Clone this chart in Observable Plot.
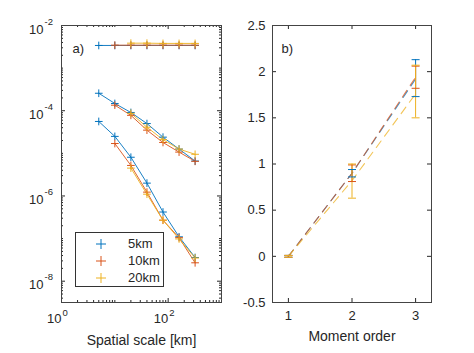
<!DOCTYPE html>
<html><head><meta charset="utf-8">
<script src="https://cdn.jsdelivr.net/npm/d3@7"></script>
<script src="https://cdn.jsdelivr.net/npm/@observablehq/plot@0.6"></script>
<style>
body{margin:0;background:#fff;font-family:"Liberation Sans",Arial,sans-serif;color:#262626;}
#wrap{position:relative;width:474px;height:353px;}
#left,#right{position:absolute;top:0;}
#left{left:0}#right{left:237px}
#legend{position:absolute;left:75px;top:232px;width:87px;height:53px;border:1px solid #333;background:#fff;font-size:13px;}
#legend .row{position:absolute;left:0;height:16px;width:87px;}
#legend svg{position:absolute;left:19px;top:2px;}
#legend span{position:absolute;left:52px;top:0;line-height:16px;}
</style></head><body>
<div id="wrap"><div id="left"></div><div id="right"></div><div id="legend"></div></div>
<script>
const resolutions = ["5km", "10km", "20km"];
const colors = ["#0072BD", "#D95319", "#EDB120"];
const spatialScales = [5, 10, 20, 40, 80, 160, 320];

// Panel a) structure functions, moment order 1, 2, 3 (values per spatial scale)
const q1_5km  = [3.4e-3, 3.4e-3, 3.4e-3, 3.4e-3, 3.4e-3, 3.4e-3, 3.4e-3];
const q1_10km = [3.45e-3, 3.45e-3, 3.45e-3, 3.45e-3, 3.45e-3, 3.45e-3];
const q1_20km = [3.85e-3, 3.85e-3, 3.8e-3, 3.8e-3, 3.8e-3];
const q2_5km  = [2.57e-4, 1.48e-4, 9.1e-5, 5.0e-5, 2.4e-5, 1.26e-5, 6.6e-6];
const q2_10km = [1.35e-4, 7.8e-5, 3.5e-5, 1.8e-5, 1.07e-5, 6.5e-6];
const q2_20km = [8.7e-5, 4.1e-5, 2.1e-5, 1.26e-5, 9.5e-6];
const q3_5km  = [5.6e-5, 2.5e-5, 8.1e-6, 2.0e-6, 4.2e-7, 1.1e-7, 3.6e-8];
const q3_10km = [1.7e-5, 5.2e-6, 1.23e-6, 2.7e-7, 1.05e-7, 2.7e-8];
const q3_20km = [4.5e-6, 1.1e-6, 2.7e-7, 9.8e-8, 3.5e-8];

// Panel b) scaling exponents vs moment order
const momentOrders = [1, 2, 3];
const zeta_5km  = [0, 0.90, 1.92];
const lo_5km    = [-0.01, 0.86, 1.73];
const hi_5km    = [0.01, 0.94, 2.13];
const zeta_10km = [0, 0.90, 1.94];
const lo_10km   = [-0.01, 0.81, 1.82];
const hi_10km   = [0.01, 0.99, 2.06];
const zeta_20km = [0, 0.82, 1.76];
const lo_20km   = [-0.01, 0.63, 1.50];
const hi_20km   = [0.01, 1.00, 2.07];

// tick labels
const xLogLabels = [1, 100];
const yLogLabels = [1e-8, 1e-6, 1e-4, 1e-2];
const yLinTicks = [-0.5, 0, 0.5, 1, 1.5, 2, 2.5];
const yLinLabels = ["-0.5", "0", "0.5", "1", "1.5", "2", "2.5"];
const xLinTicks = [1, 2, 3];

const font = '"Liberation Sans", Arial, sans-serif';
const ink = "#262626";
const color = {domain: resolutions, range: colors};

// ---------- panel a ----------
const seriesA = {
  "5km":  [q1_5km, q2_5km, q3_5km],
  "10km": [q1_10km, q2_10km, q3_10km],
  "20km": [q1_20km, q2_20km, q3_20km]
};
const rowsA = [];
resolutions.forEach(res => {
  seriesA[res].forEach((vals, qi) => {
    const xs = spatialScales.slice(spatialScales.length - vals.length);
    vals.forEach((v, i) => rowsA.push({res, q: qi + 1, scale: xs[i], value: v}));
  });
});

const xDomA = [1, 1000], yDomA = [10 ** -8.5, 1e-2];
const WA = 237, HA = 353, mlA = 61, mrA = 16, mtA = 25, mbA = 51;
const fwA = WA - mlA - mrA, fhA = HA - mtA - mbA;

const xMajor = xLogLabels;
const xMinor = [];
for (let e = 0; e < 3; e++) for (let m = 1; m <= 9; m++) { const v = m * 10 ** e; if (!xMajor.includes(v)) xMinor.push(v); }
xMinor.push(1000);
const yMajor = yLogLabels;
const yMinor = [];
for (let e = -9; e < -2; e++) for (let m = 1; m <= 9; m++) { const v = m * 10 ** e; if (v > yDomA[0] && v <= yDomA[1] && !yMajor.some(t => Math.abs(t - v) / t < 1e-9)) yMinor.push(v); }

const tickMarks = (xMaj, xMin, yMaj, yMin, fw, fh) => [
  Plot.tickX(xMaj, {x: d => d, insetTop: fh - 4, stroke: ink}),
  Plot.tickX(xMaj, {x: d => d, insetBottom: fh - 4, stroke: ink}),
  Plot.tickX(xMin, {x: d => d, insetTop: fh - 2, stroke: ink}),
  Plot.tickX(xMin, {x: d => d, insetBottom: fh - 2, stroke: ink}),
  Plot.tickY(yMaj, {y: d => d, insetRight: fw - 4, stroke: ink}),
  Plot.tickY(yMaj, {y: d => d, insetLeft: fw - 4, stroke: ink}),
  Plot.tickY(yMin, {y: d => d, insetRight: fw - 2, stroke: ink}),
  Plot.tickY(yMin, {y: d => d, insetLeft: fw - 2, stroke: ink})
];

const plotA = Plot.plot({
  width: WA, height: HA,
  marginLeft: mlA, marginRight: mrA, marginTop: mtA, marginBottom: mbA,
  style: {fontFamily: font, fontSize: "13px", color: ink, background: "white"},
  x: {type: "log", domain: xDomA, axis: null},
  y: {type: "log", domain: yDomA, axis: null},
  color,
  marks: [
    Plot.line(rowsA, {x: "scale", y: "value", z: d => d.res + d.q, stroke: "res", strokeWidth: 0.9}),
    Plot.dot(rowsA, {x: "scale", y: "value", stroke: "res", symbol: "plus", r: 2.6, strokeWidth: 1}),
    ...tickMarks(xMajor, xMinor, yMajor, yMinor, fwA, fhA),
    Plot.frame({stroke: "#444", strokeWidth: 1}),
    // y tick labels 10^k
    Plot.text(yLogLabels, {y: d => d, frameAnchor: "left", text: () => "10", textAnchor: "end", dx: -18, dy: 4, fill: ink, fontSize: 13}),
    Plot.text(yLogLabels, {y: d => d, frameAnchor: "left", text: d => String(Math.round(Math.log10(d))), textAnchor: "start", dx: -17, dy: -4, fill: ink, fontSize: 9.5}),
    // x tick labels
    Plot.text(xLogLabels, {x: d => d, frameAnchor: "bottom", text: () => "10", textAnchor: "end", dy: 20, fill: ink, fontSize: 13}),
    Plot.text(xLogLabels, {x: d => d, frameAnchor: "bottom", text: d => String(Math.round(Math.log10(d))), textAnchor: "start", dx: 1, dy: 13, fill: ink, fontSize: 9.5}),
    Plot.text(["Spatial scale [km]"], {frameAnchor: "bottom", dy: 42, fill: ink, fontSize: 14}),
    Plot.text(["a)"], {frameAnchor: "top-left", dx: 11, dy: 18, textAnchor: "start", fill: ink, fontSize: 13})
  ]
});
document.getElementById("left").appendChild(plotA);

// ---------- panel b ----------
const seriesB = {
  "5km":  [zeta_5km, lo_5km, hi_5km],
  "10km": [zeta_10km, lo_10km, hi_10km],
  "20km": [zeta_20km, lo_20km, hi_20km]
};
const rowsB = [];
resolutions.forEach(res => {
  const [z, lo, hi] = seriesB[res];
  momentOrders.forEach((o, i) => rowsB.push({res, order: o, zeta: z[i], lo: lo[i], hi: hi[i]}));
});

const capSymbol = {draw(ctx, size) { const r = Math.sqrt(size / Math.PI); ctx.moveTo(-r, 0); ctx.lineTo(r, 0); }};

const WB = 237, HB = 353, mlB = 35, mrB = 43, mtB = 25, mbB = 51;
const fwB = WB - mlB - mrB, fhB = HB - mtB - mbB;

const plotB = Plot.plot({
  width: WB, height: HB,
  marginLeft: mlB, marginRight: mrB, marginTop: mtB, marginBottom: mbB,
  style: {fontFamily: font, fontSize: "13px", color: ink, background: "white"},
  x: {domain: [0.75, 3.25], axis: null},
  y: {domain: [-0.5, 2.5], axis: null},
  color,
  marks: [
    Plot.line(rowsB, {x: "order", y: "zeta", z: "res", stroke: "res", strokeWidth: 1.1, strokeOpacity: 0.75, strokeDasharray: "8,6"}),
    Plot.ruleX(rowsB, {x: "order", y1: "lo", y2: "hi", stroke: "res", strokeWidth: 1}),
    Plot.dot(rowsB, {x: "order", y: "lo", stroke: "res", symbol: capSymbol, r: 4, strokeWidth: 1}),
    Plot.dot(rowsB, {x: "order", y: "hi", stroke: "res", symbol: capSymbol, r: 4, strokeWidth: 1}),
    ...tickMarks(xLinTicks, [], yLinTicks, [], fwB, fhB),
    Plot.frame({stroke: "#444", strokeWidth: 1}),
    Plot.text(yLinTicks, {y: d => d, frameAnchor: "left", text: (d, i) => yLinLabels[i], textAnchor: "end", dx: -7, fill: ink, fontSize: 13}),
    Plot.text(xLinTicks, {x: d => d, frameAnchor: "bottom", text: d => String(d), dy: 17, fill: ink, fontSize: 13}),
    Plot.text(["Moment order"], {frameAnchor: "bottom", dy: 38, fill: ink, fontSize: 14}),
    Plot.text(["b)"], {frameAnchor: "top-left", dx: 9, dy: 18, textAnchor: "start", fill: ink, fontSize: 13})
  ]
});
document.getElementById("right").appendChild(plotB);

// ---------- legend (inside panel a) ----------
const legend = document.getElementById("legend");
resolutions.forEach((res, i) => {
  const row = document.createElement("div");
  row.className = "row";
  row.style.top = (3 + i * 17) + "px";
  row.innerHTML = `<svg width="12" height="12" viewBox="-6 -6 12 12"><path d="M-5,0H5M0,-5V5" stroke="${colors[i]}" stroke-width="1"/></svg><span>${res}</span>`;
  legend.appendChild(row);
});
</script>
</body></html>
